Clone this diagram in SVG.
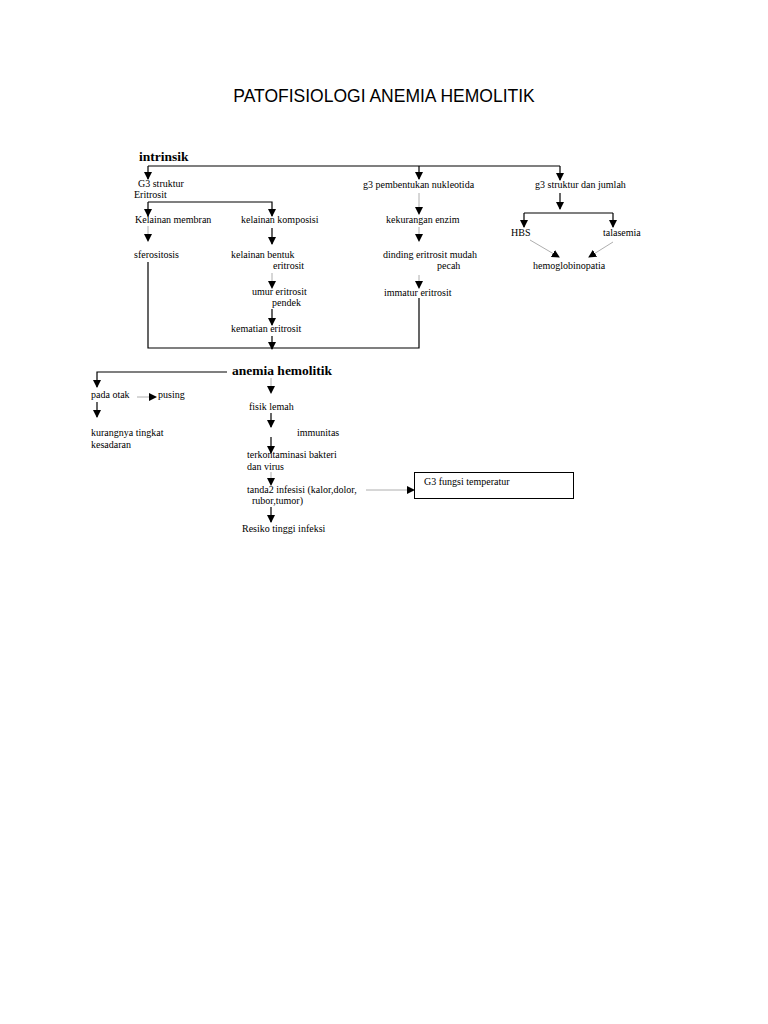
<svg xmlns="http://www.w3.org/2000/svg" width="768" height="1024" viewBox="0 0 768 1024">
<style>
text{font-family:"Liberation Serif",serif;font-size:10px;fill:#000}
.t{font-family:"Liberation Sans",sans-serif;font-size:17.5px}
.b{font-size:13.5px;font-weight:bold}
line,polyline{stroke:#000;stroke-width:1.2;fill:none}
.g{stroke:#999;stroke-width:0.8}
</style>
<defs><marker id="a" markerWidth="8" markerHeight="8" refX="7" refY="4" orient="auto" markerUnits="userSpaceOnUse"><path d="M0,0L8,4L0,8z" fill="#000"/></marker></defs>
<rect width="768" height="1024" fill="#fff"/>
<text class="t" x="384" y="102" text-anchor="middle">PATOFISIOLOGI ANEMIA HEMOLITIK</text>
<g id="connectors">
<polyline points="148,166 560,166"/>
<line x1="148" y1="166" x2="148" y2="179" marker-end="url(#a)"/>
<line x1="419" y1="166" x2="419" y2="179" marker-end="url(#a)"/>
<line x1="560" y1="166" x2="560" y2="180" marker-end="url(#a)"/>
<polyline points="148,202 272,202 272,216" marker-end="url(#a)"/>
<line x1="148" y1="202" x2="148" y2="216" marker-end="url(#a)"/>
<line class="g" x1="148" y1="226" x2="148" y2="241" marker-end="url(#a)"/>
<line x1="272" y1="228" x2="272" y2="244" marker-end="url(#a)"/>
<line class="g" x1="272" y1="273" x2="272" y2="288" marker-end="url(#a)"/>
<line x1="272" y1="309" x2="272" y2="325" marker-end="url(#a)"/>
<line x1="272" y1="336" x2="272" y2="349" marker-end="url(#a)"/>
<polyline points="148,262 148,348 419,348 419,298"/>
<line class="g" x1="419" y1="193" x2="419" y2="214" marker-end="url(#a)"/>
<line class="g" x1="419" y1="227" x2="419" y2="241" marker-end="url(#a)"/>
<line class="g" x1="419" y1="275" x2="419" y2="288" marker-end="url(#a)"/>
<line x1="560" y1="193" x2="560" y2="209" marker-end="url(#a)"/>
<polyline points="524,213 613,213"/>
<line x1="524" y1="213" x2="524" y2="227" marker-end="url(#a)"/>
<line x1="613" y1="213" x2="613" y2="227" marker-end="url(#a)"/>
<line class="g" x1="530" y1="240" x2="559" y2="257" marker-end="url(#a)"/>
<line class="g" x1="613" y1="242" x2="589" y2="257" marker-end="url(#a)"/>
<polyline points="227,372 97,372 97,387" marker-end="url(#a)"/>
<line class="g" x1="137" y1="397" x2="156" y2="397" marker-end="url(#a)"/>
<line x1="97" y1="402" x2="97" y2="417" marker-end="url(#a)"/>
<line class="g" x1="271" y1="378" x2="271" y2="393" marker-end="url(#a)"/>
<line x1="271" y1="413" x2="271" y2="427" marker-end="url(#a)"/>
<line x1="271" y1="437" x2="271" y2="453" marker-end="url(#a)"/>
<line class="g" x1="271" y1="472" x2="271" y2="485" marker-end="url(#a)"/>
<line class="g" x1="366" y1="490" x2="414" y2="490" marker-end="url(#a)"/>
<line x1="271" y1="507" x2="271" y2="522" marker-end="url(#a)"/>
</g>
<g id="n-intrinsik"><text class="b" x="139" y="161">intrinsik</text></g>
<g id="n-g3struktur"><text x="138" y="187">G3 struktur</text><text x="134" y="198">Eritrosit</text></g>
<g id="n-membran"><text x="135" y="223">Kelainan membran</text></g>
<g id="n-komposisi"><text x="241" y="223">kelainan komposisi</text></g>
<g id="n-sferositosis"><text x="134" y="258">sferositosis</text></g>
<g id="n-bentuk"><text x="231" y="258">kelainan bentuk</text><text x="273" y="269">eritrosit</text></g>
<g id="n-umur"><text x="252" y="295">umur eritrosit</text><text x="272" y="306">pendek</text></g>
<g id="n-kematian"><text x="231" y="332">kematian eritrosit</text></g>
<g id="n-nukleotida"><text x="363" y="188">g3 pembentukan nukleotida</text></g>
<g id="n-enzim"><text x="386" y="223">kekurangan enzim</text></g>
<g id="n-dinding"><text x="383" y="258">dinding eritrosit mudah</text><text x="437" y="269">pecah</text></g>
<g id="n-immatur"><text x="384" y="296">immatur eritrosit</text></g>
<g id="n-jumlah"><text x="535" y="188">g3  struktur dan jumlah</text></g>
<g id="n-hbs"><text x="511" y="236">HBS</text></g>
<g id="n-talasemia"><text x="603" y="236">talasemia</text></g>
<g id="n-hemoglobinopatia"><text x="533" y="269">hemoglobinopatia</text></g>
<g id="n-anemia"><text class="b" x="232" y="375">anemia hemolitik</text></g>
<g id="n-otak"><text x="91" y="398">pada otak</text></g>
<g id="n-pusing"><text x="158" y="398">pusing</text></g>
<g id="n-kesadaran"><text x="91" y="436">kurangnya tingkat</text><text x="91" y="448">kesadaran</text></g>
<g id="n-fisik"><text x="249" y="410">fisik lemah</text></g>
<g id="n-immunitas"><text x="297" y="436">immunitas</text></g>
<g id="n-terkontaminasi"><text x="247" y="458">terkontaminasi bakteri</text><text x="247" y="470">dan virus</text></g>
<g id="n-tanda"><text x="247" y="493">tanda2 infesisi (kalor,dolor,</text><text x="252" y="504">rubor,tumor)</text></g>
<g id="n-temperatur"><rect x="414.5" y="472.5" width="159" height="26" fill="none" stroke="#000"/><text x="424" y="485">G3 fungsi temperatur</text></g>
<g id="n-resiko"><text x="242" y="532">Resiko tinggi infeksi</text></g>
</svg>
